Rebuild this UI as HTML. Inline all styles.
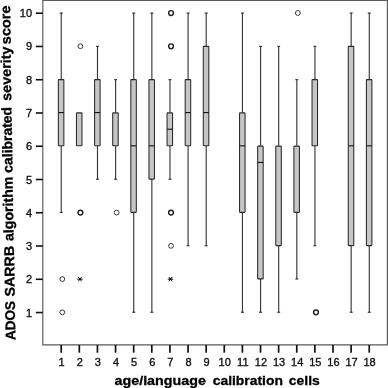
<!DOCTYPE html>
<html><head><meta charset="utf-8"><title>Boxplot</title>
<style>
html,body{margin:0;padding:0;background:#fff;}
body{width:388px;height:388px;overflow:hidden;}
svg{display:block;}
.t{font-family:"Liberation Sans",Arial,sans-serif;font-size:11px;fill:#111;stroke:#111;stroke-width:0.35px;}
.s{font-family:"Liberation Sans",Arial,sans-serif;font-size:13px;fill:#111;}
.bx{font-family:"Liberation Sans",Arial,sans-serif;font-size:13.5px;font-weight:bold;fill:#000;stroke:#000;stroke-width:0.3px;}
.b{font-family:"Liberation Sans",Arial,sans-serif;font-size:14px;font-weight:bold;fill:#000;stroke:#000;stroke-width:0.3px;}
</style></head><body>
<svg width="388" height="388" viewBox="0 0 388 388">
<rect x="0" y="0" width="388" height="388" fill="#fff"/>
<path d="M42.8 0.45H387.4V344.9H42.8Z" fill="none" stroke="#5a5a5a" stroke-width="1.15"/>
<line x1="35.8" x2="42.8" y1="312.54" y2="312.54" stroke="#111" stroke-width="1.6"/>
<text x="32.1" y="316.54" text-anchor="end" class="t">1</text>
<line x1="35.8" x2="42.8" y1="279.28" y2="279.28" stroke="#111" stroke-width="1.6"/>
<text x="32.1" y="283.28" text-anchor="end" class="t">2</text>
<line x1="35.8" x2="42.8" y1="246.02" y2="246.02" stroke="#111" stroke-width="1.6"/>
<text x="32.1" y="250.02" text-anchor="end" class="t">3</text>
<line x1="35.8" x2="42.8" y1="212.76" y2="212.76" stroke="#111" stroke-width="1.6"/>
<text x="32.1" y="216.76" text-anchor="end" class="t">4</text>
<line x1="35.8" x2="42.8" y1="179.50" y2="179.50" stroke="#111" stroke-width="1.6"/>
<text x="32.1" y="183.50" text-anchor="end" class="t">5</text>
<line x1="35.8" x2="42.8" y1="146.24" y2="146.24" stroke="#111" stroke-width="1.6"/>
<text x="32.1" y="150.24" text-anchor="end" class="t">6</text>
<line x1="35.8" x2="42.8" y1="112.98" y2="112.98" stroke="#111" stroke-width="1.6"/>
<text x="32.1" y="116.98" text-anchor="end" class="t">7</text>
<line x1="35.8" x2="42.8" y1="79.72" y2="79.72" stroke="#111" stroke-width="1.6"/>
<text x="32.1" y="83.72" text-anchor="end" class="t">8</text>
<line x1="35.8" x2="42.8" y1="46.46" y2="46.46" stroke="#111" stroke-width="1.6"/>
<text x="32.1" y="50.46" text-anchor="end" class="t">9</text>
<line x1="35.8" x2="42.8" y1="13.20" y2="13.20" stroke="#111" stroke-width="1.6"/>
<text x="32.1" y="17.20" text-anchor="end" class="t">10</text>
<line x1="61.20" x2="61.20" y1="345" y2="352.7" stroke="#111" stroke-width="1.7"/>
<text x="61.60" y="365.6" text-anchor="middle" class="t">1</text>
<line x1="79.32" x2="79.32" y1="345" y2="352.7" stroke="#111" stroke-width="1.7"/>
<text x="79.72" y="365.6" text-anchor="middle" class="t">2</text>
<line x1="97.44" x2="97.44" y1="345" y2="352.7" stroke="#111" stroke-width="1.7"/>
<text x="97.84" y="365.6" text-anchor="middle" class="t">3</text>
<line x1="115.56" x2="115.56" y1="345" y2="352.7" stroke="#111" stroke-width="1.7"/>
<text x="115.96" y="365.6" text-anchor="middle" class="t">4</text>
<line x1="133.68" x2="133.68" y1="345" y2="352.7" stroke="#111" stroke-width="1.7"/>
<text x="134.08" y="365.6" text-anchor="middle" class="t">5</text>
<line x1="151.80" x2="151.80" y1="345" y2="352.7" stroke="#111" stroke-width="1.7"/>
<text x="152.20" y="365.6" text-anchor="middle" class="t">6</text>
<line x1="169.92" x2="169.92" y1="345" y2="352.7" stroke="#111" stroke-width="1.7"/>
<text x="170.32" y="365.6" text-anchor="middle" class="t">7</text>
<line x1="188.04" x2="188.04" y1="345" y2="352.7" stroke="#111" stroke-width="1.7"/>
<text x="188.44" y="365.6" text-anchor="middle" class="t">8</text>
<line x1="206.16" x2="206.16" y1="345" y2="352.7" stroke="#111" stroke-width="1.7"/>
<text x="206.56" y="365.6" text-anchor="middle" class="t">9</text>
<line x1="224.28" x2="224.28" y1="345" y2="352.7" stroke="#111" stroke-width="1.7"/>
<text x="224.68" y="365.6" text-anchor="middle" class="t">10</text>
<line x1="242.40" x2="242.40" y1="345" y2="352.7" stroke="#111" stroke-width="1.7"/>
<text x="242.80" y="365.6" text-anchor="middle" class="t">11</text>
<line x1="260.52" x2="260.52" y1="345" y2="352.7" stroke="#111" stroke-width="1.7"/>
<text x="260.92" y="365.6" text-anchor="middle" class="t">12</text>
<line x1="278.64" x2="278.64" y1="345" y2="352.7" stroke="#111" stroke-width="1.7"/>
<text x="279.04" y="365.6" text-anchor="middle" class="t">13</text>
<line x1="296.76" x2="296.76" y1="345" y2="352.7" stroke="#111" stroke-width="1.7"/>
<text x="297.16" y="365.6" text-anchor="middle" class="t">14</text>
<line x1="314.88" x2="314.88" y1="345" y2="352.7" stroke="#111" stroke-width="1.7"/>
<text x="315.28" y="365.6" text-anchor="middle" class="t">15</text>
<line x1="333.00" x2="333.00" y1="345" y2="352.7" stroke="#111" stroke-width="1.7"/>
<text x="333.40" y="365.6" text-anchor="middle" class="t">16</text>
<line x1="351.12" x2="351.12" y1="345" y2="352.7" stroke="#111" stroke-width="1.7"/>
<text x="351.52" y="365.6" text-anchor="middle" class="t">17</text>
<line x1="369.24" x2="369.24" y1="345" y2="352.7" stroke="#111" stroke-width="1.7"/>
<text x="369.64" y="365.6" text-anchor="middle" class="t">18</text>
<line x1="61.25" x2="61.25" y1="12.80" y2="79.32" stroke="#383838" stroke-width="1.15"/>
<line x1="59.75" x2="62.75" y1="13.10" y2="13.10" stroke="#383838" stroke-width="1.15"/>
<line x1="61.25" x2="61.25" y1="212.76" y2="145.84" stroke="#383838" stroke-width="1.15"/>
<line x1="59.75" x2="62.75" y1="212.46" y2="212.46" stroke="#383838" stroke-width="1.15"/>
<rect x="58.35" y="79.62" width="5.5" height="66.22" fill="#c6c6c6" stroke="#2a2a2a" stroke-width="1.05" rx="0.5"/>
<line x1="58.35" x2="63.85" y1="112.58" y2="112.58" stroke="#111" stroke-width="1.1"/>
<rect x="76.47" y="112.88" width="5.5" height="32.96" fill="#c6c6c6" stroke="#2a2a2a" stroke-width="1.05" rx="0.5"/>
<line x1="97.49" x2="97.49" y1="46.06" y2="79.32" stroke="#383838" stroke-width="1.15"/>
<line x1="95.99" x2="98.99" y1="46.36" y2="46.36" stroke="#383838" stroke-width="1.15"/>
<line x1="97.49" x2="97.49" y1="179.50" y2="145.84" stroke="#383838" stroke-width="1.15"/>
<line x1="95.99" x2="98.99" y1="179.20" y2="179.20" stroke="#383838" stroke-width="1.15"/>
<rect x="94.59" y="79.62" width="5.5" height="66.22" fill="#c6c6c6" stroke="#2a2a2a" stroke-width="1.05" rx="0.5"/>
<line x1="94.59" x2="100.09" y1="112.58" y2="112.58" stroke="#111" stroke-width="1.1"/>
<line x1="115.61" x2="115.61" y1="79.32" y2="112.58" stroke="#383838" stroke-width="1.15"/>
<line x1="114.11" x2="117.11" y1="79.62" y2="79.62" stroke="#383838" stroke-width="1.15"/>
<line x1="115.61" x2="115.61" y1="179.50" y2="145.84" stroke="#383838" stroke-width="1.15"/>
<line x1="114.11" x2="117.11" y1="179.20" y2="179.20" stroke="#383838" stroke-width="1.15"/>
<rect x="112.71" y="112.88" width="5.5" height="32.96" fill="#c6c6c6" stroke="#2a2a2a" stroke-width="1.05" rx="0.5"/>
<line x1="133.73" x2="133.73" y1="12.80" y2="79.32" stroke="#383838" stroke-width="1.15"/>
<line x1="132.23" x2="135.23" y1="13.10" y2="13.10" stroke="#383838" stroke-width="1.15"/>
<line x1="133.73" x2="133.73" y1="312.54" y2="212.36" stroke="#383838" stroke-width="1.15"/>
<line x1="132.23" x2="135.23" y1="312.24" y2="312.24" stroke="#383838" stroke-width="1.15"/>
<rect x="130.83" y="79.62" width="5.5" height="132.74" fill="#c6c6c6" stroke="#2a2a2a" stroke-width="1.05" rx="0.5"/>
<line x1="130.83" x2="136.33" y1="145.84" y2="145.84" stroke="#111" stroke-width="1.1"/>
<line x1="151.85" x2="151.85" y1="12.80" y2="79.32" stroke="#383838" stroke-width="1.15"/>
<line x1="150.35" x2="153.35" y1="13.10" y2="13.10" stroke="#383838" stroke-width="1.15"/>
<line x1="151.85" x2="151.85" y1="312.54" y2="179.10" stroke="#383838" stroke-width="1.15"/>
<line x1="150.35" x2="153.35" y1="312.24" y2="312.24" stroke="#383838" stroke-width="1.15"/>
<rect x="148.95" y="79.62" width="5.5" height="99.48" fill="#c6c6c6" stroke="#2a2a2a" stroke-width="1.05" rx="0.5"/>
<line x1="148.95" x2="154.45" y1="145.84" y2="145.84" stroke="#111" stroke-width="1.1"/>
<line x1="169.97" x2="169.97" y1="79.32" y2="112.58" stroke="#383838" stroke-width="1.15"/>
<line x1="168.47" x2="171.47" y1="79.62" y2="79.62" stroke="#383838" stroke-width="1.15"/>
<line x1="169.97" x2="169.97" y1="179.50" y2="145.84" stroke="#383838" stroke-width="1.15"/>
<line x1="168.47" x2="171.47" y1="179.20" y2="179.20" stroke="#383838" stroke-width="1.15"/>
<rect x="167.07" y="112.88" width="5.5" height="32.96" fill="#c6c6c6" stroke="#2a2a2a" stroke-width="1.05" rx="0.5"/>
<line x1="167.07" x2="172.57" y1="129.21" y2="129.21" stroke="#111" stroke-width="1.1"/>
<line x1="188.09" x2="188.09" y1="12.80" y2="79.32" stroke="#383838" stroke-width="1.15"/>
<line x1="186.59" x2="189.59" y1="13.10" y2="13.10" stroke="#383838" stroke-width="1.15"/>
<line x1="188.09" x2="188.09" y1="246.02" y2="145.84" stroke="#383838" stroke-width="1.15"/>
<line x1="186.59" x2="189.59" y1="245.72" y2="245.72" stroke="#383838" stroke-width="1.15"/>
<rect x="185.19" y="79.62" width="5.5" height="66.22" fill="#c6c6c6" stroke="#2a2a2a" stroke-width="1.05" rx="0.5"/>
<line x1="185.19" x2="190.69" y1="112.58" y2="112.58" stroke="#111" stroke-width="1.1"/>
<line x1="206.21" x2="206.21" y1="12.80" y2="46.06" stroke="#383838" stroke-width="1.15"/>
<line x1="204.71" x2="207.71" y1="13.10" y2="13.10" stroke="#383838" stroke-width="1.15"/>
<line x1="206.21" x2="206.21" y1="246.02" y2="145.84" stroke="#383838" stroke-width="1.15"/>
<line x1="204.71" x2="207.71" y1="245.72" y2="245.72" stroke="#383838" stroke-width="1.15"/>
<rect x="203.31" y="46.36" width="5.5" height="99.48" fill="#c6c6c6" stroke="#2a2a2a" stroke-width="1.05" rx="0.5"/>
<line x1="203.31" x2="208.81" y1="112.58" y2="112.58" stroke="#111" stroke-width="1.1"/>
<line x1="242.45" x2="242.45" y1="12.80" y2="112.58" stroke="#383838" stroke-width="1.15"/>
<line x1="240.95" x2="243.95" y1="13.10" y2="13.10" stroke="#383838" stroke-width="1.15"/>
<line x1="242.45" x2="242.45" y1="312.54" y2="212.36" stroke="#383838" stroke-width="1.15"/>
<line x1="240.95" x2="243.95" y1="312.24" y2="312.24" stroke="#383838" stroke-width="1.15"/>
<rect x="239.55" y="112.88" width="5.5" height="99.48" fill="#c6c6c6" stroke="#2a2a2a" stroke-width="1.05" rx="0.5"/>
<line x1="239.55" x2="245.05" y1="145.84" y2="145.84" stroke="#111" stroke-width="1.1"/>
<line x1="260.57" x2="260.57" y1="46.06" y2="145.84" stroke="#383838" stroke-width="1.15"/>
<line x1="259.07" x2="262.07" y1="46.36" y2="46.36" stroke="#383838" stroke-width="1.15"/>
<line x1="260.57" x2="260.57" y1="312.54" y2="278.88" stroke="#383838" stroke-width="1.15"/>
<line x1="259.07" x2="262.07" y1="312.24" y2="312.24" stroke="#383838" stroke-width="1.15"/>
<rect x="257.67" y="146.14" width="5.5" height="132.74" fill="#c6c6c6" stroke="#2a2a2a" stroke-width="1.05" rx="0.5"/>
<line x1="257.67" x2="263.17" y1="162.47" y2="162.47" stroke="#111" stroke-width="1.1"/>
<line x1="278.69" x2="278.69" y1="46.06" y2="145.84" stroke="#383838" stroke-width="1.15"/>
<line x1="277.19" x2="280.19" y1="46.36" y2="46.36" stroke="#383838" stroke-width="1.15"/>
<line x1="278.69" x2="278.69" y1="312.54" y2="245.62" stroke="#383838" stroke-width="1.15"/>
<line x1="277.19" x2="280.19" y1="312.24" y2="312.24" stroke="#383838" stroke-width="1.15"/>
<rect x="275.79" y="146.14" width="5.5" height="99.48" fill="#c6c6c6" stroke="#2a2a2a" stroke-width="1.05" rx="0.5"/>
<line x1="296.81" x2="296.81" y1="79.32" y2="145.84" stroke="#383838" stroke-width="1.15"/>
<line x1="295.31" x2="298.31" y1="79.62" y2="79.62" stroke="#383838" stroke-width="1.15"/>
<line x1="296.81" x2="296.81" y1="279.28" y2="212.36" stroke="#383838" stroke-width="1.15"/>
<line x1="295.31" x2="298.31" y1="278.98" y2="278.98" stroke="#383838" stroke-width="1.15"/>
<rect x="293.91" y="146.14" width="5.5" height="66.22" fill="#c6c6c6" stroke="#2a2a2a" stroke-width="1.05" rx="0.5"/>
<line x1="314.93" x2="314.93" y1="46.06" y2="79.32" stroke="#383838" stroke-width="1.15"/>
<line x1="313.43" x2="316.43" y1="46.36" y2="46.36" stroke="#383838" stroke-width="1.15"/>
<line x1="314.93" x2="314.93" y1="246.02" y2="145.84" stroke="#383838" stroke-width="1.15"/>
<line x1="313.43" x2="316.43" y1="245.72" y2="245.72" stroke="#383838" stroke-width="1.15"/>
<rect x="312.03" y="79.62" width="5.5" height="66.22" fill="#c6c6c6" stroke="#2a2a2a" stroke-width="1.05" rx="0.5"/>
<line x1="351.17" x2="351.17" y1="12.80" y2="46.06" stroke="#383838" stroke-width="1.15"/>
<line x1="349.67" x2="352.67" y1="13.10" y2="13.10" stroke="#383838" stroke-width="1.15"/>
<line x1="351.17" x2="351.17" y1="312.54" y2="245.62" stroke="#383838" stroke-width="1.15"/>
<line x1="349.67" x2="352.67" y1="312.24" y2="312.24" stroke="#383838" stroke-width="1.15"/>
<rect x="348.27" y="46.36" width="5.5" height="199.26" fill="#c6c6c6" stroke="#2a2a2a" stroke-width="1.05" rx="0.5"/>
<line x1="348.27" x2="353.77" y1="145.84" y2="145.84" stroke="#111" stroke-width="1.1"/>
<line x1="369.29" x2="369.29" y1="12.80" y2="79.32" stroke="#383838" stroke-width="1.15"/>
<line x1="367.79" x2="370.79" y1="13.10" y2="13.10" stroke="#383838" stroke-width="1.15"/>
<line x1="369.29" x2="369.29" y1="312.54" y2="245.62" stroke="#383838" stroke-width="1.15"/>
<line x1="367.79" x2="370.79" y1="312.24" y2="312.24" stroke="#383838" stroke-width="1.15"/>
<rect x="366.39" y="79.62" width="5.5" height="166.00" fill="#c6c6c6" stroke="#2a2a2a" stroke-width="1.05" rx="0.5"/>
<line x1="366.39" x2="371.89" y1="145.84" y2="145.84" stroke="#111" stroke-width="1.1"/>
<circle cx="62.30" cy="279.08" r="2.4" fill="#fff" stroke="#222" stroke-width="0.9"/>
<circle cx="62.30" cy="312.34" r="2.4" fill="#fff" stroke="#222" stroke-width="0.9"/>
<circle cx="80.42" cy="46.26" r="2.4" fill="#fff" stroke="#222" stroke-width="0.9"/>
<circle cx="80.42" cy="212.56" r="2.4" fill="#fff" stroke="#222" stroke-width="1.45"/>
<circle cx="116.66" cy="212.56" r="2.4" fill="#fff" stroke="#222" stroke-width="0.9"/>
<circle cx="171.02" cy="13.00" r="2.4" fill="#fff" stroke="#222" stroke-width="1.45"/>
<circle cx="171.02" cy="46.26" r="2.4" fill="#fff" stroke="#222" stroke-width="1.45"/>
<circle cx="171.02" cy="212.56" r="2.4" fill="#fff" stroke="#222" stroke-width="1.45"/>
<circle cx="171.02" cy="245.82" r="2.4" fill="#fff" stroke="#222" stroke-width="0.9"/>
<circle cx="297.86" cy="13.00" r="2.4" fill="#fff" stroke="#222" stroke-width="0.9"/>
<circle cx="315.98" cy="312.34" r="2.4" fill="#fff" stroke="#222" stroke-width="1.45"/>
<path d="M77.22 279.18H82.62M78.22 276.98L81.62 281.38M81.62 276.98L78.22 281.38" stroke="#111" stroke-width="1" fill="none"/>
<circle cx="79.92" cy="279.18" r="0.9" fill="#000"/>
<path d="M167.82 279.18H173.22M168.82 276.98L172.22 281.38M172.22 276.98L168.82 281.38" stroke="#111" stroke-width="1" fill="none"/>
<circle cx="170.52" cy="279.18" r="0.9" fill="#000"/>
<text id="xw0" x="114.58" y="384.7" textLength="91.28" lengthAdjust="spacingAndGlyphs" class="bx">age/language</text>
<text id="xw1" x="212.72" y="384.7" textLength="70.2" lengthAdjust="spacingAndGlyphs" class="bx">calibration</text>
<text id="xw2" x="288.86" y="384.7" textLength="30.92" lengthAdjust="spacingAndGlyphs" class="bx">cells</text>
<text id="yw0" transform="translate(15.4,340.06) rotate(-90.9)" textLength="39.2" lengthAdjust="spacingAndGlyphs" class="b">ADOS</text>
<text id="yw1" transform="translate(14.7,296.58) rotate(-90.9)" textLength="50.86" lengthAdjust="spacingAndGlyphs" class="b">SARRB</text>
<text id="yw2" transform="translate(13.5,241.0) rotate(-90.9)" textLength="64.42" lengthAdjust="spacingAndGlyphs" class="b">algorithm</text>
<text id="yw3" transform="translate(12.5,172.64) rotate(-90.9)" textLength="65.77" lengthAdjust="spacingAndGlyphs" class="b">calibrated</text>
<text id="yw4" transform="translate(11.3,100.63) rotate(-90.9)" textLength="54.05" lengthAdjust="spacingAndGlyphs" class="b">severity</text>
<text id="yw5" transform="translate(10.7,44.14) rotate(-90.9)" textLength="38.64" lengthAdjust="spacingAndGlyphs" class="b">score</text>
</svg>
</body></html>
